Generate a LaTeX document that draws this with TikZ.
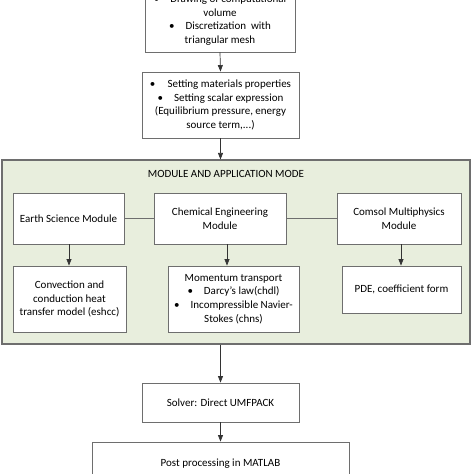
\documentclass[tikz,border=0pt]{standalone}
\usepackage{fontspec}
\setmainfont{Carlito}
\usetikzlibrary{arrows.meta}
\definecolor{bordergray}{HTML}{6E6E6E}
\definecolor{panelgreen}{HTML}{E8EEDD}
\tikzset{
  boxnode/.style={draw=bordergray, line width=0.9pt, fill=white, align=center, inner sep=0pt,
    font=\fontsize{11}{13.6}\selectfont},
  arr/.style={draw=black!80, line width=0.7pt, -{Triangle[length=6.5pt,width=5pt]}},
  link/.style={draw=bordergray, line width=0.8pt},
}
\begin{document}
\begin{tikzpicture}[x=1pt,y=-1pt]
\useasboundingbox (0,0) rectangle (474,474);
\clip (0,0) rectangle (474,474);
% top box
\node[boxnode, minimum width=150pt, minimum height=64pt] (geom) at (220,20)
  {\textbullet\quad Drawing of computational\\volume\\\textbullet\quad Discretization\ \ with\\triangular mesh};
\node[boxnode, minimum width=157pt, minimum height=66pt] (mat) at (220.5,105)
  {\textbullet\hspace{1.1em}Setting materials properties\\\textbullet\quad Setting scalar expression\\(Equilibrium pressure, energy\\source term,...)};
% green panel
\node[draw=bordergray, line width=1.1pt, fill=panelgreen, minimum width=468pt, minimum height=184pt, inner sep=0pt] (panel) at (236,252) {};
\node[font=\fontsize{11}{13.6}\selectfont, inner sep=0pt] (title) at (226,174) {MODULE AND APPLICATION MODE};
\node[boxnode, minimum width=111pt, minimum height=51pt] (earth) at (68.5,218.5) {Earth Science Module};
\node[boxnode, minimum width=132pt, minimum height=51pt] (chem) at (220,218.5) {Chemical Engineering\\Module};
\node[boxnode, minimum width=124pt, minimum height=51pt] (comsol) at (399,218.5) {Comsol Multiphysics\\Module};
\node[boxnode, minimum width=113pt, minimum height=66pt] (conv) at (69.5,299) {Convection and\\conduction heat\\transfer model (eshcc)};
\node[boxnode, minimum width=131pt, minimum height=66pt] (mom) at (233.5,299) {Momentum transport\\\textbullet\quad Darcy's law(chdl)\\\textbullet\quad Incompressible Navier-\\Stokes (chns)};
\node[boxnode, minimum width=119pt, minimum height=47pt] (pde) at (401.5,289.5) {PDE, coefficient form};
% bottom
\node[boxnode, minimum width=157pt, minimum height=39pt] (solver) at (220.5,402.5) {Solver: Direct UMFPACK};
\node[boxnode, minimum width=257pt, minimum height=48pt, text depth=0pt] (post) at (220.5,466) {};
\node[font=\fontsize{11}{13.6}\selectfont, inner sep=0pt] (posttext) at (220.5,464) {Post processing in MATLAB};
% connectors
\draw[arr] (geom.south) -- (mat.north);
\draw[arr] (mat.south) -- (mat.south |- panel.north);
\draw[link] (earth.east) -- (chem.west);
\draw[link] (chem.east) -- (comsol.west);
\draw[arr] ([xshift=0.5pt]earth.south) -- ([xshift=0.5pt]earth.south |- conv.north);
\draw[arr] ([xshift=7pt]chem.south) -- ([xshift=7pt]chem.south |- mom.north);
\draw[arr] ([xshift=2pt]comsol.south) -- ([xshift=2pt]comsol.south |- pde.north);
\draw[arr] (solver.north |- panel.south) -- (solver.north);
\draw[arr] (solver.south) -- (post.north);
\end{tikzpicture}
\end{document}
